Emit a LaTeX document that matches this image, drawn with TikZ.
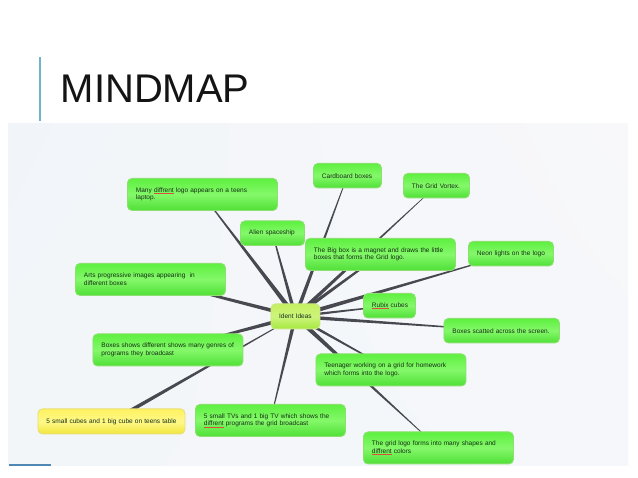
\documentclass[tikz,border=0pt]{standalone}
\usepackage{fontspec}
\setmainfont{Liberation Sans}
\usetikzlibrary{calc,backgrounds,shadings}
\definecolor{linkcol}{HTML}{484850}
\definecolor{txtcol}{HTML}{143014}
\definecolor{sq}{HTML}{D8503A}
\definecolor{bgA}{HTML}{F1F5F9}
\definecolor{bgB}{HTML}{F8F8FA}
\definecolor{bgC}{HTML}{F3F6F9}
\definecolor{bgD}{HTML}{F5F7FA}
\definecolor{barcol}{HTML}{6FB3C8}
\definecolor{strip}{HTML}{4F88B5}
\definecolor{gEdge}{HTML}{8BE070}
\definecolor{gTop}{HTML}{5EF040}
\definecolor{gMid}{HTML}{84F86A}
\definecolor{gBot}{HTML}{4FE036}
\definecolor{yEdge}{HTML}{E8DE78}
\definecolor{yTop}{HTML}{FFF260}
\definecolor{yMid}{HTML}{FFF888}
\definecolor{yBot}{HTML}{F0E63C}
\definecolor{iEdge}{HTML}{C8E880}
\definecolor{iTop}{HTML}{C4F060}
\definecolor{iMid}{HTML}{CEF47C}
\definecolor{iBot}{HTML}{A4E840}
\newcommand\sqg[1]{\leavevmode\setbox0\hbox{#1}\rlap{\textcolor{sq}{\rule[-1.2pt]{\wd0}{0.5pt}}}\box0 }
\newcommand\ltxt[1]{\makebox[\linewidth][l]{#1}}
\newcommand\ctxt[1]{\makebox[\linewidth][c]{#1}}
\newcommand\taper[4]{\fill[linkcol] ($(#1)!#3!90:(#2)$) -- ($(#2)!#4!-90:(#1)$) -- ($(#2)!#4!90:(#1)$) -- ($(#1)!#3!-90:(#2)$) -- cycle;}
\tikzset{
  mm/.style={draw=#1, line width=0.9pt, rounded corners=4.5pt, inner xsep=8.5pt, inner ysep=0pt,
    font=\fontsize{6.5}{7.7}\selectfont, text=txtcol, align=left, anchor=north west},
  green box/.style={mm=gEdge, top color=gTop, bottom color=gBot, middle color=gMid},
  wide box/.style={green box, minimum width=150pt, minimum height=32pt, text width=133pt},
  one box/.style={green box, minimum height=24.5pt},
  yellow box/.style={mm=yEdge, top color=yTop, bottom color=yBot, middle color=yMid, minimum height=25pt},
  ident box/.style={mm=iEdge, top color=iTop, bottom color=iBot, middle color=iMid, minimum height=25pt},
  title text/.style={font=\fontsize{40}{41}\selectfont, text=black!92, anchor=base west, inner sep=0pt}
}
\begin{document}
\begin{tikzpicture}[x=1pt,y=-1pt]
\useasboundingbox (0,0) rectangle (638,478);
\fill[barcol] (39,57) rectangle (41,121);
\node[title text] (title) at (60.5,103) {MINDMAP};

\node[wide box] (many) at (127,178) {\ltxt{Many \sqg{diffrent} logo appears on a teens}\\\ltxt{laptop.}};
\node[one box, minimum width=64pt, text width=47pt] (alien) at (240,220.5) {\ltxt{Alien spaceship}};
\node[one box, minimum width=68pt, text width=51pt] (card) at (313,163) {\ltxt{Cardboard boxes}};
\node[one box, minimum width=66pt, text width=49pt] (vortex) at (403,173) {\ltxt{The Grid Vortex.}};
\node[wide box] (big) at (305,238) {\ltxt{The Big box is a magnet and draws the little}\\\ltxt{boxes that forms the Grid logo.}};
\node[one box, minimum width=85pt, text width=68pt] (neon) at (468,241) {\ltxt{Neon lights on the logo}};
\node[wide box] (arts) at (75,263) {\ltxt{Arts progressive images appearing\ \ in}\\\ltxt{different boxes}};
\node[ident box, minimum width=49pt, text width=32pt] (ident) at (270.5,303.5) {\ctxt{Ident Ideas}};
\node[one box, minimum width=52pt, text width=35pt] (rubix) at (363,293) {\ltxt{\sqg{Rubix} cubes}};
\node[one box, minimum width=115.5pt, text width=98.5pt] (scat) at (443.5,318) {\ltxt{Boxes scatted across the screen.}};
\node[wide box] (shows) at (92.5,333.5) {\ltxt{Boxes shows different shows many genres of}\\\ltxt{programs they broadcast}};
\node[wide box] (teen) at (315.5,353.5) {\ltxt{Teenager working on a grid for homework}\\\ltxt{which forms into the logo.}};
\node[wide box] (tvs) at (195,404) {\ltxt{5 small TVs and 1 big TV which shows the}\\\ltxt{\sqg{diffrent} programs the grid broadcast}};
\node[yellow box, minimum width=147pt, text width=130pt] (cubes) at (37.5,408.5) {\ltxt{5 small cubes and 1 big cube on teens table}};
\node[wide box] (logo) at (363,431.5) {\ltxt{The grid logo forms into many shapes and}\\\ltxt{\sqg{diffrent} colors}};

\begin{scope}[on background layer]
\fill[white] (0,0) rectangle (638,478);
\shade[upper left=bgA, upper right=bgB, lower left=bgC, lower right=bgD] (8,124) rectangle (628,466);
\fill[strip] (9,464) rectangle (51,466);
\taper{ident}{many}{2.4pt}{0.4pt}
\taper{ident}{alien}{1.9pt}{0.5pt}
\taper{ident}{card}{2pt}{0.3pt}
\taper{ident}{vortex}{2pt}{0.15pt}
\taper{ident}{big}{1.9pt}{0.8pt}
\taper{ident}{neon}{2.2pt}{0.3pt}
\taper{ident}{rubix}{1.4pt}{0.5pt}
\taper{ident}{scat}{1.9pt}{0.3pt}
\taper{ident}{arts}{2pt}{0.8pt}
\taper{ident}{shows}{2pt}{0.8pt}
\taper{ident}{tvs}{1.9pt}{0.3pt}
\taper{ident}{cubes}{0.3pt}{2pt}
\taper{ident}{teen}{1.5pt}{0.5pt}
\taper{ident}{logo}{2.3pt}{0.15pt}
\end{scope}
\end{tikzpicture}
\end{document}
